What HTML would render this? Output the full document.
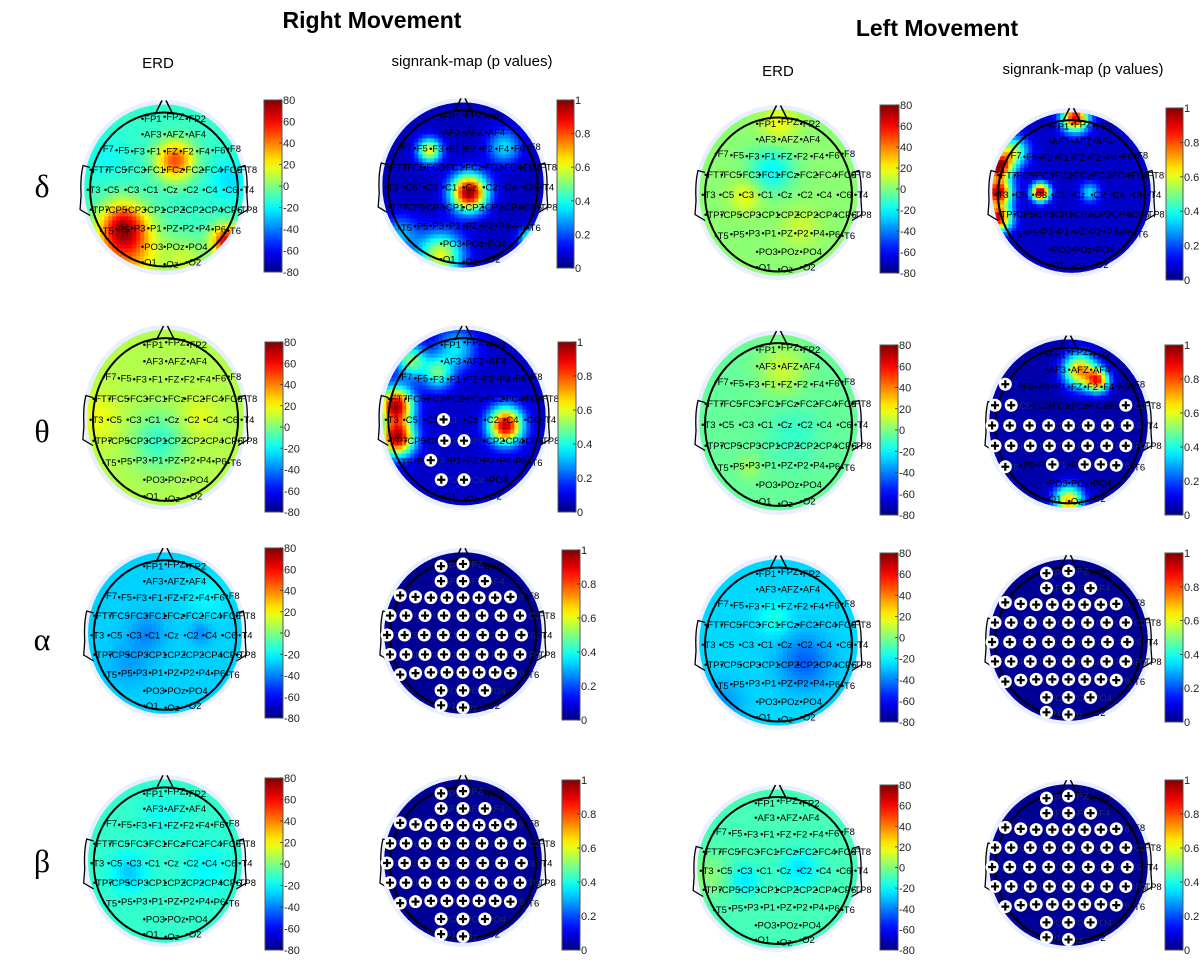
<!DOCTYPE html>
<html><head><meta charset="utf-8"><style>
body{margin:0;background:#fff;}
svg{display:block;font-family:"Liberation Sans",sans-serif;}
</style></head><body>
<svg id="fig" width="1200" height="960" viewBox="0 0 1200 960" xmlns="http://www.w3.org/2000/svg">
<text x="372" y="28" font-size="23" font-weight="bold" text-anchor="middle" font-family="Liberation Sans Narrow, Liberation Sans, sans-serif">Right Movement</text>
<text x="937" y="36" font-size="23" font-weight="bold" text-anchor="middle" font-family="Liberation Sans Narrow, Liberation Sans, sans-serif">Left Movement</text>
<text x="158" y="68" font-size="15" text-anchor="middle">ERD</text>
<text x="472" y="66" font-size="15" text-anchor="middle">signrank-map (p values)</text>
<text x="778" y="76" font-size="15" text-anchor="middle">ERD</text>
<text x="1083" y="74" font-size="15" text-anchor="middle">signrank-map (p values)</text>
<text x="42" y="197" font-size="32" text-anchor="middle" font-family="Liberation Serif, serif">δ</text>
<text x="42" y="442" font-size="32" text-anchor="middle" font-family="Liberation Serif, serif">θ</text>
<text x="42" y="650" font-size="32" text-anchor="middle" font-family="Liberation Serif, serif">α</text>
<text x="42" y="872" font-size="32" text-anchor="middle" font-family="Liberation Serif, serif">β</text>
</svg>
<script>
// ---- data ----
const erdTicks = [80,60,40,20,0,-20,-40,-60,-80];
const pTicks = [1,0.8,0.6,0.4,0.2,0];
const electrodeNames = ["FP1","FPZ","FP2","AF3","AFZ","AF4","F7","F5","F3","F1","FZ","F2","F4","F6","F8","FT7","FC5","FC3","FC1","FCz","FC2","FC4","FC6","FT8","T3","C5","C3","C1","Cz","C2","C4","C6","T4","TP7","CP5","CP3","CP1","CPZ","CP2","CP4","CP6","TP8","T5","P5","P3","P1","PZ","P2","P4","P6","T6","PO3","POz","PO4","O1","Oz","O2"];
const electrodeX = [-0.3,0,0.3,-0.3,0,0.3,-0.86,-0.65,-0.44,-0.22,0,0.22,0.44,0.65,0.86,-1.0,-0.78,-0.52,-0.26,0,0.26,0.52,0.78,1.0,-1.04,-0.8,-0.53,-0.27,0,0.27,0.53,0.8,1.04,-1.0,-0.78,-0.52,-0.26,0,0.26,0.52,0.78,1.0,-0.86,-0.65,-0.44,-0.22,0,0.22,0.44,0.65,0.86,-0.3,0,0.3,-0.3,0,0.3];
const electrodeY = [-0.92,-0.95,-0.92,-0.72,-0.72,-0.72,-0.53,-0.51,-0.5,-0.5,-0.5,-0.5,-0.5,-0.51,-0.53,-0.26,-0.26,-0.26,-0.26,-0.26,-0.26,-0.26,-0.26,-0.26,0,0,0,0,0,0,0,0,0,0.26,0.26,0.26,0.26,0.26,0.26,0.26,0.26,0.26,0.53,0.51,0.5,0.5,0.5,0.5,0.5,0.51,0.53,0.74,0.74,0.74,0.94,0.97,0.94];
// map values: base + blobs [x, y, radius, value]
const base_R_delta_erd = -12; const blobs_R_delta_erd = [[0.15,-0.35,0.25,48],[-0.55,0.5,0.3,52],[-0.5,0.85,0.45,35],[0.85,0.7,0.2,65],[0.3,0.95,0.3,10],[0.9,-0.1,0.25,-25],[-0.8,-0.4,0.3,-18]];
const base_R_theta_erd = 8; const blobs_R_theta_erd = [[-0.1,0.3,0.35,-12],[0.45,0,0.25,16],[-0.95,0,0.3,18]];
const base_R_alpha_erd = -27; const blobs_R_alpha_erd = [[-0.25,0,0.25,-38],[0.5,0,0.15,-38],[-0.5,0.4,0.3,-35],[0.6,-0.5,0.3,-20]];
const base_R_beta_erd = -12; const blobs_R_beta_erd = [[-0.5,0.15,0.25,-28],[0.6,0.1,0.35,-20],[0,-0.6,0.3,-18]];
const base_L_delta_erd = 2; const blobs_L_delta_erd = [[-0.1,-0.3,0.3,-20],[-0.45,0.05,0.2,18],[0,-0.9,0.25,18],[0.3,0.45,0.25,12]];
const base_L_theta_erd = -4; const blobs_L_theta_erd = [[0.05,-0.65,0.3,12],[-0.4,0.55,0.15,5],[0.2,0.15,0.35,-12]];
const base_L_alpha_erd = -26; const blobs_L_alpha_erd = [[0.35,0.25,0.35,-45],[-0.05,-0.3,0.2,-15],[-0.8,0.8,0.3,-38]];
const base_L_beta_erd = -9; const blobs_L_beta_erd = [[-0.45,0.15,0.2,-24],[0.3,0,0.25,-24],[-0.95,0.1,0.3,2]];
const base_R_delta_p = 0.06; const blobs_R_delta_p = [[0.08,0.1,0.24,1.0],[-0.45,-0.45,0.16,0.62],[0.55,-0.5,0.22,0.35],[-0.3,0.92,0.3,0.6],[-0.85,0.65,0.25,0.3],[0.9,0.7,0.15,0.45]];
const base_R_theta_p = 0.07; const blobs_R_theta_p = [[-0.9,-0.15,0.22,0.95],[-0.88,0.25,0.22,0.95],[0.55,0.1,0.22,0.95],[-0.35,-0.55,0.2,0.45],[-0.1,-0.85,0.25,0.35],[-0.7,-0.7,0.2,0.5]];
const base_R_alpha_p = 0.02; const blobs_R_alpha_p = [];
const base_R_beta_p = 0.02; const blobs_R_beta_p = [];
const base_L_delta_p = 0.07; const blobs_L_delta_p = [[-1.0,-0.35,0.18,0.95],[-1.0,0,0.18,0.95],[-1.0,0.35,0.18,0.9],[-0.42,0,0.12,1.0],[0.25,0,0.13,0.35],[0.05,-1.0,0.18,0.9],[-0.8,-0.55,0.2,0.55]];
const base_L_theta_p = 0.04; const blobs_L_theta_p = [[0.15,-0.68,0.22,0.72],[0.4,-0.55,0.15,0.75],[0,1.0,0.2,0.7]];
const base_L_alpha_p = 0.02; const blobs_L_alpha_p = [];
const base_L_beta_p = 0.02; const blobs_L_beta_p = [];
const allPlus = electrodeNames.filter(n=>["F8","FT8","T4","TP8","T6","FP2","O2"].indexOf(n)<0);
const plus_R_theta = ["C1","CP1","CPZ","P3","PO3","POz"];
const plus_L_theta = ["F7","FT7","FC5","FC6","T3","C5","C3","C1","Cz","C2","C4","C6","TP7","CP5","CP3","CP1","CPZ","CP2","CP4","CP6","T5","P1","P2","P4","P6"];

// ---- layout ----
const maps = [
 {id:"right-delta-erd",b:[80,100,248,275],cb:[264,100,282,272],base:base_R_delta_erd,blobs:blobs_R_delta_erd,p:false,plus:[]},
 {id:"right-delta-p",b:[378,98,548,272],cb:[557,100,574,268],base:base_R_delta_p,blobs:blobs_R_delta_p,p:true,plus:[]},
 {id:"left-delta-erd",b:[695,105,862,280],cb:[880,105,899,273],base:base_L_delta_erd,blobs:blobs_L_delta_erd,p:false,plus:[]},
 {id:"left-delta-p",b:[988,108,1155,277],cb:[1166,108,1183,280],base:base_L_delta_p,blobs:blobs_L_delta_p,p:true,plus:[]},
 {id:"right-theta-erd",b:[83,325,248,510],cb:[265,342,283,512],base:base_R_theta_erd,blobs:blobs_R_theta_erd,p:false,plus:[]},
 {id:"right-theta-p",b:[378,325,550,510],cb:[558,342,576,512],base:base_R_theta_p,blobs:blobs_R_theta_p,p:true,plus:plus_R_theta},
 {id:"left-theta-erd",b:[695,330,862,515],cb:[880,345,898,515],base:base_L_theta_erd,blobs:blobs_L_theta_erd,p:false,plus:[]},
 {id:"left-theta-p",b:[985,335,1152,512],cb:[1165,345,1183,515],base:base_L_theta_p,blobs:blobs_L_theta_p,p:true,plus:plus_L_theta},
 {id:"right-alpha-erd",b:[84,548,246,718],cb:[265,548,283,718],base:base_R_alpha_erd,blobs:blobs_R_alpha_erd,p:false,plus:[]},
 {id:"right-alpha-p",b:[380,548,546,718],cb:[562,550,580,720],base:base_R_alpha_p,blobs:blobs_R_alpha_p,p:true,plus:allPlus},
 {id:"left-alpha-erd",b:[695,555,862,730],cb:[880,553,898,722],base:base_L_alpha_erd,blobs:blobs_L_alpha_erd,p:false,plus:[]},
 {id:"left-alpha-p",b:[985,555,1152,725],cb:[1165,553,1183,722],base:base_L_alpha_p,blobs:blobs_L_alpha_p,p:true,plus:allPlus},
 {id:"right-beta-erd",b:[84,775,246,947],cb:[265,778,283,950],base:base_R_beta_erd,blobs:blobs_R_beta_erd,p:false,plus:[]},
 {id:"right-beta-p",b:[380,775,546,947],cb:[562,780,580,950],base:base_R_beta_p,blobs:blobs_R_beta_p,p:true,plus:allPlus},
 {id:"left-beta-erd",b:[693,785,862,952],cb:[880,785,898,950],base:base_L_beta_erd,blobs:blobs_L_beta_erd,p:false,plus:[]},
 {id:"left-beta-p",b:[985,780,1152,950],cb:[1165,780,1183,950],base:base_L_beta_p,blobs:blobs_L_beta_p,p:true,plus:allPlus}
];

const NS="http://www.w3.org/2000/svg";
const svg=document.getElementById('fig');
function el(t,a,parent){const e=document.createElementNS(NS,t);for(const k in a)e.setAttribute(k,a[k]);(parent||svg).appendChild(e);return e;}
function jet(t){t=Math.max(0,Math.min(1,t));
 const r=Math.max(0,Math.min(1,1.5-Math.abs(4*t-3))),g=Math.max(0,Math.min(1,1.5-Math.abs(4*t-2))),b=Math.max(0,Math.min(1,1.5-Math.abs(4*t-1)));
 return `rgb(${Math.round(r*255)},${Math.round(g*255)},${Math.round(b*255)})`;}
const defs=el('defs',{});
const lg=el('linearGradient',{id:'jetv',x1:0,y1:1,x2:0,y2:0},defs);
for(let i=0;i<=20;i++){el('stop',{offset:(i/20),'stop-color':jet(i/20)},lg);}

maps.forEach((m,mi)=>{
 const [x0,y0,x1,y1]=m.b;const cx=(x0+x1)/2,cy=(y0+y1)/2,rx=(x1-x0)/2,ry=(y1-y0)/2;
 const g=el('g',{});
 
 
 const halo=el('ellipse',{cx,cy,rx,ry,fill:'#e9efff'},g);
 
 
 const crx=rx*0.95,cry=ry*0.95;
 const lo=m.p?0:-80,hi=m.p?1:80;
 const field=(u,v)=>{let val=m.base;for(const b of m.blobs){const d2=((u-b[0])**2+(v-b[1])**2)/(b[2]*b[2]);val+=(b[3]-m.base)*Math.exp(-d2);}return val;};
 const hr=rx*0.88,hry=ry*0.88;
 const cid='clip'+mi;const cp=el('clipPath',{id:cid},defs);el('ellipse',{cx,cy,rx:crx,ry:cry},cp);
 const fg=el('g',{'clip-path':`url(#${cid})`},g);
 
 
 const st=4;
 for(let py=cy-cry;py<cy+cry;py+=st){for(let px=cx-crx;px<cx+crx;px+=st){
  const u=(px+st/2-cx)/hr,v=(py+st/2-cy)/hry;const val=field(u,v);
  const c=el('rect',{x:px.toFixed(1),y:py.toFixed(1),width:st+0.6,height:st+0.6,fill:jet((val-lo)/(hi-lo))},fg);
  
  
 }}
 const hd=el('ellipse',{cx,cy:cy+2,rx:hr,ry:hry,fill:'none',stroke:'#000','stroke-width':2},g);
 
 
 const ny=cy+2-hry;
 const nose=el('path',{d:`M${cx-9},${ny+2} L${cx-2},${ny-12} M${cx+9},${ny+2} L${cx+2},${ny-12}`,stroke:'#000','stroke-width':1.5,fill:'none'},g);
 
 
 [-1,1].forEach(s=>{const ex=cx+s*hr;const e=el('path',{d:`M${ex},${cy-20} L${ex+s*7},${cy-22} Q${ex+s*10},${cy-10} ${ex+s*9},${cy+8} L${ex+s*10},${cy+22} L${ex},${cy+28}`,stroke:'#000','stroke-width':1.3,fill:'none'},g);
  
  });
 electrodeNames.forEach((n,i)=>{
  const ex=cx+electrodeX[i]*hr,ey=cy+2+electrodeY[i]*hry;
  const isPlus=m.plus.indexOf(n)>=0;
  const t=el('text',{x:ex-1,y:ey+3.5,'font-size':9.5,fill:isPlus?'#1a2a6a':'#000'},g);
  t.textContent='•'+n;
  
  
  if(isPlus){
   const c=el('circle',{cx:ex,cy:ey,r:6.5,fill:'#fff'},g);
   
   
   el('path',{d:`M${ex-4},${ey} H${ex+4} M${ex},${ey-4} V${ey+4}`,stroke:'#000','stroke-width':2.2},g);
  }
 });
 const [bx0,by0,bx1,by1]=m.cb;
 const cb=el('rect',{x:bx0,y:by0,width:bx1-bx0,height:by1-by0,fill:'url(#jetv)',stroke:'#555','stroke-width':1},svg);
 
 
 const ticks=m.p?pTicks:erdTicks;
 ticks.forEach(tv=>{const yy=by1-(tv-lo)/(hi-lo)*(by1-by0);
  el('line',{x1:bx1-3,x2:bx1,y1:yy,y2:yy,stroke:'#333','stroke-width':0.8});
  const t=el('text',{x:bx1+1,y:yy+4,'font-size':11,fill:'#222'});
  t.textContent=String(tv);
  
  });
});
</script>
</body></html>
